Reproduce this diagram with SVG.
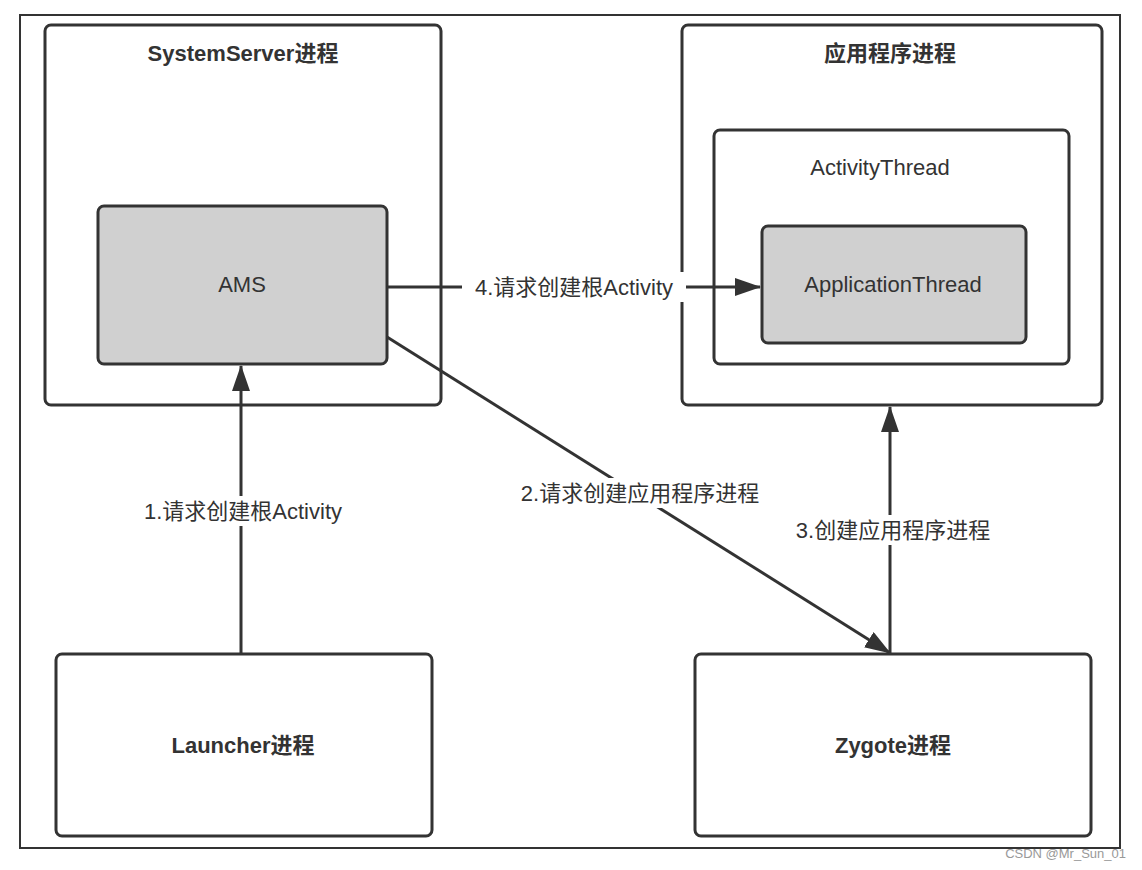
<svg xmlns="http://www.w3.org/2000/svg" width="1142" height="870" viewBox="0 0 1142 870">
<style>
.box{fill:#fff;stroke:#333;stroke-width:3}
.gray{fill:#d0d0d0;stroke:#333;stroke-width:3}
.t{font-family:"Liberation Sans","Noto Sans CJK SC",sans-serif;font-size:22px;fill:#333;text-anchor:middle;dominant-baseline:central}
.b{font-weight:bold}
.c{stroke:#333;stroke-width:3;fill:none;marker-end:url(#a)}
.lb{fill:#fff}
</style>
<defs><marker id="a" markerWidth="10" markerHeight="8" refX="9" refY="4" orient="auto" markerUnits="userSpaceOnUse" viewBox="0 0 10 8"><path d="M0,0L10,4L0,8z" fill="#333"/></marker>
<marker id="a2" markerWidth="26" markerHeight="18" refX="25" refY="9" orient="auto" markerUnits="userSpaceOnUse" viewBox="0 0 26 18"><path d="M0,0L26,9L0,18z" fill="#333"/></marker></defs>
<rect x="0" y="0" width="1142" height="870" fill="#fff"/>
<rect x="20" y="15" width="1100" height="833" fill="none" stroke="#333" stroke-width="2"/>
<g id="systemserver"><rect class="box" x="45" y="25" width="396" height="380" rx="6"/><text class="t b" x="243" y="53">SystemServer进程</text></g>
<g id="ams"><rect class="gray" x="98" y="206" width="289" height="158" rx="6"/><text class="t" x="242" y="284">AMS</text></g>
<g id="app"><rect class="box" x="682" y="25" width="420" height="380" rx="6"/><text class="t b" x="890" y="53">应用程序进程</text></g>
<g id="activitythread"><rect class="box" x="714" y="130" width="355" height="234" rx="6"/><text class="t" x="880" y="167">ActivityThread</text></g>
<g id="applicationthread"><rect class="gray" x="762" y="226" width="264" height="117" rx="6"/><text class="t" x="893" y="284">ApplicationThread</text></g>
<g id="launcher"><rect class="box" x="56" y="654" width="376" height="182" rx="6"/><text class="t b" x="243" y="745">Launcher进程</text></g>
<g id="zygote"><rect class="box" x="695" y="654" width="396" height="182" rx="6"/><text class="t b" x="893" y="745">Zygote进程</text></g>
<g id="connectors">
<line x1="241" y1="654" x2="241" y2="366" stroke="#333" stroke-width="3" marker-end="url(#a2)"/>
<rect class="lb" x="130" y="496" width="226" height="30"/><text class="t" x="243" y="511">1.请求创建根Activity</text>
<line x1="387" y1="287" x2="760" y2="287" stroke="#333" stroke-width="3" marker-end="url(#a2)"/>
<rect class="lb" x="462" y="272" width="224" height="30"/><text class="t" x="574" y="287">4.请求创建根Activity</text>
<line x1="387" y1="337" x2="890" y2="653" stroke="#333" stroke-width="3" marker-end="url(#a2)"/>
<rect class="lb" x="512" y="478" width="256" height="30"/><text class="t" x="640" y="493">2.请求创建应用程序进程</text>
<line x1="890" y1="654" x2="890" y2="407" stroke="#333" stroke-width="3" marker-end="url(#a2)"/>
<rect class="lb" x="790" y="515" width="206" height="30"/><text class="t" x="893" y="530">3.创建应用程序进程</text>
</g>
<text x="1126" y="858" font-family="Liberation Sans,sans-serif" font-size="13" fill="#999" text-anchor="end">CSDN @Mr_Sun_01</text>
</svg>
